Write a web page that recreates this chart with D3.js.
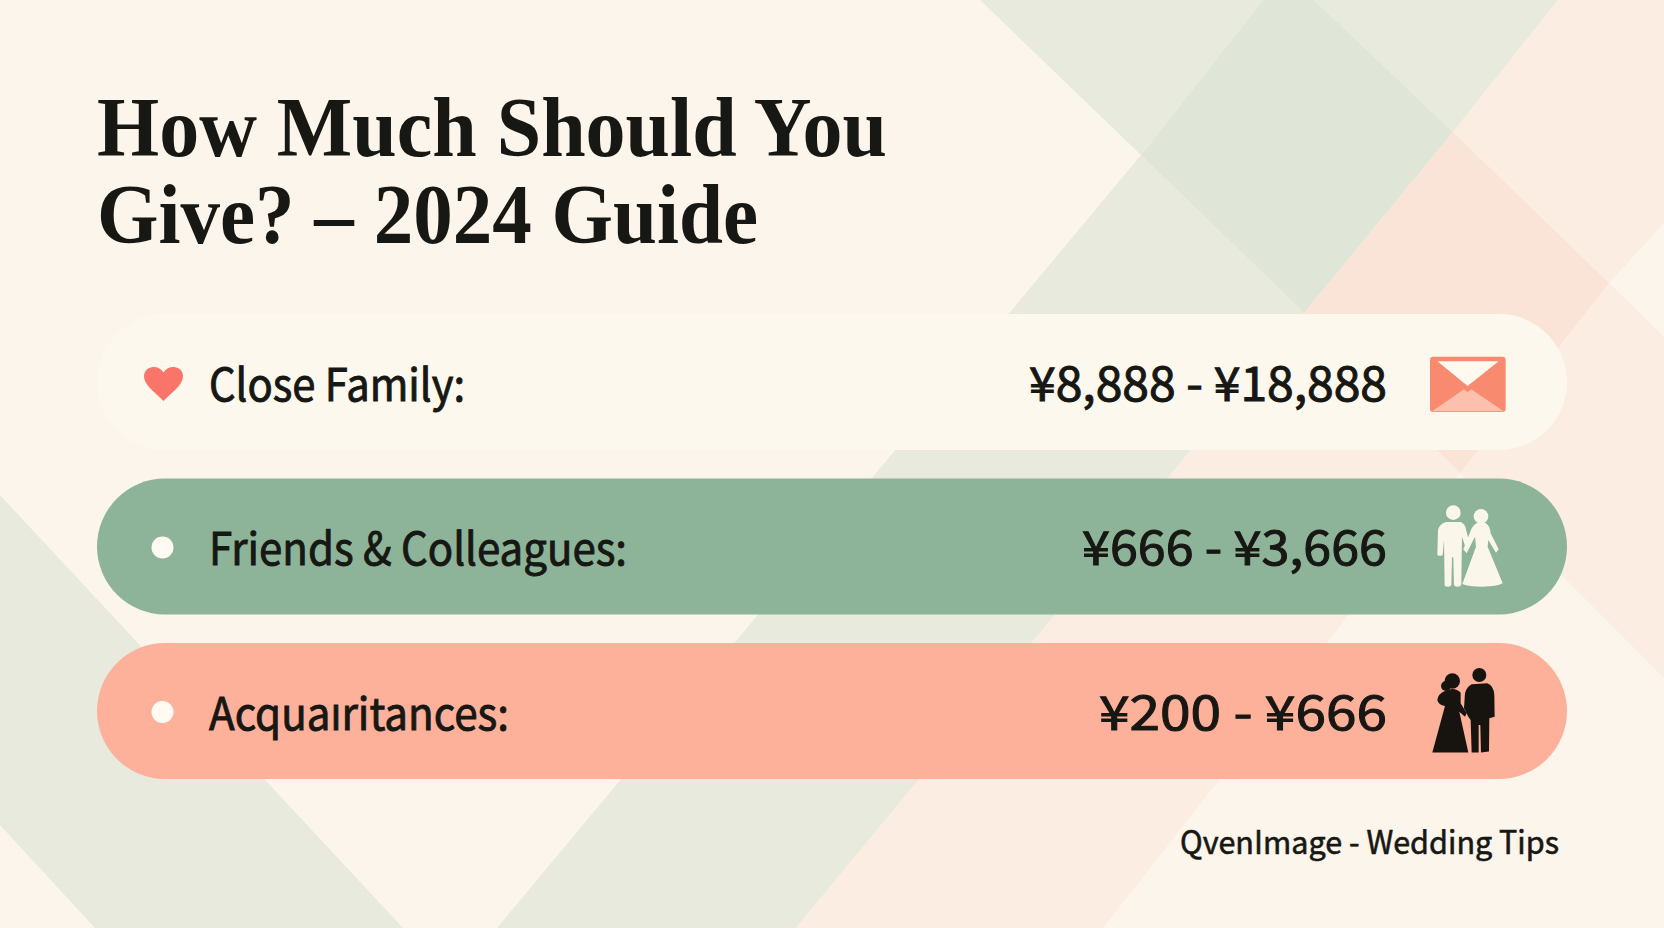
<!DOCTYPE html>
<html>
<head>
<meta charset="utf-8">
<script src="https://cdnjs.cloudflare.com/ajax/libs/d3/7.8.5/d3.min.js"></script>
<style>html,body{margin:0;padding:0;background:#FCF5EB}svg{display:block}</style>
</head>
<body>
<div id="chart"></div>
<script>
const titleLines = ["How Much Should You", "Give? – 2024 Guide"];
const categories = ["Close Family:", "Friends & Colleagues:", "Acquaıritances:"];
const lowValues = [8888, 666, 200];
const highValues = [18888, 3666, 666];
const footer = "QvenImage - Wedding Tips";
const pillColors = ["#FDF8EE", "#8DB498", "#FDB09A"];
const labelWidths = [256, 418, 300];
const valueWidths = [358, 305, 288];

const W = 1664, H = 928, INK = "#171713";
const svg = d3.select("#chart").append("svg").attr("width", W).attr("height", H).attr("viewBox", [0, 0, W, H]);
svg.append("rect").attr("width", W).attr("height", H).attr("fill", "#FCF5EB");

// background facets
const facets = [
  {fill:"#E7EADD", pts:[[980,0],[1263,0],[1141,155]]},
  {fill:"#E7EADD", pts:[[1314,0],[1558,0],[1453,132]]},
  {fill:"#E7EADD", pts:[[1141,155],[1304,313],[796,928],[497,928]]},
  {fill:"#DFE6D8", pts:[[1263,0],[1314,0],[1453,132],[1304,313],[1141,155]]},
  {fill:"#FBEDE2", pts:[[1558,0],[1664,0],[1664,223],[1609,283],[1453,132]]},
  {fill:"#FBEDE2", pts:[[1304,313],[1460,473],[1103,928],[796,928]]},
  {fill:"#FBEDE2", pts:[[1609,283],[1664,337],[1664,678],[1460,473]]},
  {fill:"#FAE3D7", pts:[[1453,132],[1609,283],[1460,473],[1304,313]]},
  {fill:"#E7EADD", pts:[[0,495],[403,928],[95,928],[0,825]]}
];
svg.append("g").selectAll("path").data(facets).join("path")
  .attr("d", d => d3.line()(d.pts) + "Z").attr("fill", d => d.fill);

// title
svg.append("g").selectAll("text").data(titleLines).join("text")
  .attr("x", 97).attr("y", (d, i) => 156 + i * 87)
  .attr("font-family", "'Liberation Serif', serif").attr("font-weight", 700)
  .attr("font-size", 85).attr("fill", INK)
  .attr("textLength", (d, i) => [790, 661][i]).attr("lengthAdjust", "spacingAndGlyphs")
  .text(d => d);

const y = d3.scaleBand().domain(categories).range([314, 779]).paddingInner(0.173);
const x = d3.scaleLinear().domain([0, 1]).range([97, 1567]);
const fmt = d3.format(",");
const rows = categories.map((c, i) => ({c, i, lo: lowValues[i], hi: highValues[i], fill: pillColors[i]}));
const row = svg.append("g").selectAll("g").data(rows).join("g");

row.append("rect")
  .attr("x", x(0)).attr("y", d => y(d.c))
  .attr("width", x(1) - x(0)).attr("height", y.bandwidth())
  .attr("rx", y.bandwidth() / 2).attr("fill", d => d.fill);

const textFont = "'Noto Sans CJK SC', 'Noto Sans', sans-serif";
row.append("text").attr("x", 209).attr("y", d => y(d.c) + 87)
  .attr("font-family", textFont).attr("font-weight", 400).attr("font-size", 45).attr("fill", INK)
  .attr("stroke", INK).attr("stroke-width", 0.9)
  .attr("textLength", d => labelWidths[d.i]).attr("lengthAdjust", "spacingAndGlyphs")
  .text(d => d.c);
row.append("text").attr("x", 1387).attr("y", d => y(d.c) + 87).attr("text-anchor", "end")
  .attr("font-family", textFont).attr("font-weight", 400).attr("font-size", 47).attr("fill", INK)
  .attr("stroke", INK).attr("stroke-width", 1)
  .attr("textLength", d => valueWidths[d.i]).attr("lengthAdjust", "spacingAndGlyphs")
  .text(d => `¥${fmt(d.lo)} - ¥${fmt(d.hi)}`);

// bullets
row.filter(d => d.i > 0).append("circle").attr("cx", 162.5)
  .attr("cy", d => y(d.c) + y.bandwidth() / 2 + 1).attr("r", 11).attr("fill", "#FFFBF2");
svg.append("path").attr("fill", "#F9756A")
  .attr("d", "M163.5,401 C156,393 144,385 144,376.5 C144,370.5 148.5,367 153.5,367 C158,367 161.5,369 163.5,372.5 C165.5,369 169,367 173.5,367 C178.5,367 183,370.5 183,376.5 C183,385 171,393 163.5,401Z");

// icons, drawn at 3x and scaled down
const icons = svg.append("g").attr("transform", "translate(1340,320) scale(0.3333)");
const env = icons.append("g");
env.append("rect").attr("x", 270).attr("y", 110).attr("width", 227).attr("height", 166).attr("rx", 10).attr("fill", "#F88A70");
env.append("path").attr("fill", "#FCC0AC").attr("d", "M276,274 L372,208 L383,216 L394,208 L491,274Z");
env.append("path").attr("fill", "#FFF9F0").attr("d", "M292,124 L476,124 L383,198Z");

const cw = icons.append("g").attr("fill", "#FBF6EA");
cw.append("circle").attr("cx", 340).attr("cy", 578).attr("r", 22);
cw.append("circle").attr("cx", 423).attr("cy", 589).attr("r", 22);
cw.append("path").attr("d", "M318,606 L362,606 Q376,612 378,628 L388,668 L376,680 L366,650 L364,795 Q362,800 352,800 Q344,800 342,795 L340,712 L336,712 L334,795 Q332,800 324,800 Q314,800 314,795 L312,660 L308,705 Q300,710 292,705 L294,630 Q298,612 318,606Z");
cw.append("path").attr("d", "M412,608 L436,608 Q450,616 452,640 L476,688 L468,698 L445,660 L443,680 L488,790 Q470,800 428,800 Q385,800 367,792 L408,680 L405,650 L380,700 L370,688 L395,625 Q400,614 412,608Z");

const cb = icons.append("g").attr("fill", "#17140F");
cb.append("circle").attr("cx", 418).attr("cy", 1065).attr("r", 21);
cb.append("circle").attr("cx", 337).attr("cy", 1083).attr("r", 23);
cb.append("circle").attr("cx", 318).attr("cy", 1098).attr("r", 15);
cb.append("path").attr("d", "M395,1093 L442,1090 Q462,1098 463,1125 L464,1190 L448,1195 L447,1295 L423,1298 L421,1215 L416,1215 L416,1298 L395,1298 L392,1200 L385,1190 L372,1165 L375,1120 Q380,1100 395,1093Z");
cb.append("path").attr("d", "M316,1112 Q293,1122 292,1140 Q295,1155 315,1158 L277,1298 L385,1298 L358,1175 L375,1190 L380,1180 L362,1150 L362,1118 Q345,1100 316,1112Z");

svg.append("text").attr("x", 1559).attr("y", 854).attr("text-anchor", "end")
  .attr("font-family", textFont).attr("font-weight", 400).attr("font-size", 32).attr("fill", INK)
  .attr("stroke", INK).attr("stroke-width", 0.6)
  .attr("textLength", 379).attr("lengthAdjust", "spacingAndGlyphs")
  .text(footer);
</script>
</body>
</html>
